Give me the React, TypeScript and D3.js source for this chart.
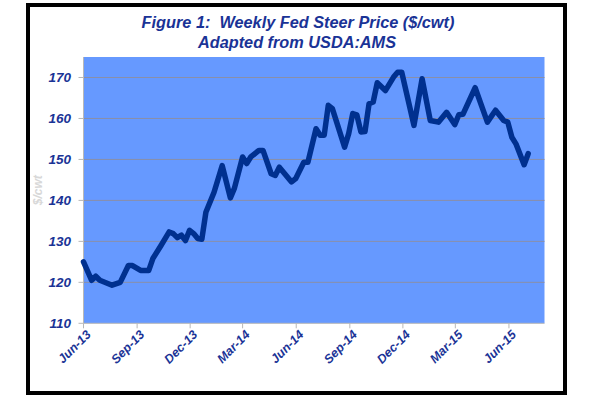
import React from "react";
import * as d3 from "d3";

const dates = [
  "2013-06-01","2013-06-15","2013-06-22","2013-06-29","2013-07-20","2013-08-03","2013-08-17","2013-08-24",
  "2013-09-07","2013-09-21","2013-09-28","2013-10-12","2013-10-26","2013-11-02","2013-11-09","2013-11-16",
  "2013-11-23","2013-11-30","2013-12-07","2013-12-14","2013-12-21","2013-12-28","2014-01-11","2014-01-25",
  "2014-02-08","2014-02-15","2014-03-01","2014-03-08","2014-03-15","2014-03-29","2014-04-05","2014-04-19",
  "2014-04-26","2014-05-03","2014-05-24","2014-05-31","2014-06-14","2014-06-21","2014-07-05","2014-07-12",
  "2014-07-19","2014-07-26","2014-08-02","2014-08-23","2014-08-30","2014-09-06","2014-09-13","2014-09-20",
  "2014-09-27","2014-10-04","2014-10-11","2014-10-18","2014-11-01","2014-11-15","2014-11-22","2014-11-29",
  "2014-12-20","2015-01-03","2015-01-17","2015-01-31","2015-02-14","2015-02-28","2015-03-07","2015-03-14",
  "2015-04-04","2015-04-25","2015-05-09","2015-05-23","2015-05-30","2015-06-06","2015-06-13","2015-06-27",
  "2015-07-04"
];

const prices = [
  125.0, 120.5, 121.5, 120.5, 119.3, 120.0, 124.1, 124.1,
  122.9, 122.9, 125.8, 129.0, 132.3, 131.9, 130.9, 131.5,
  130.2, 132.7, 131.9, 130.7, 130.5, 137.1, 142.0, 148.5,
  140.6, 143.0, 150.6, 149.0, 150.6, 152.2, 152.2, 146.5,
  146.1, 148.1, 144.5, 145.3, 149.3, 149.3, 157.5, 155.9,
  155.9, 163.2, 162.4, 153.0, 156.3, 161.2, 160.9, 156.7,
  156.8, 163.6, 164.0, 168.7, 166.8, 170.1, 171.3, 171.3,
  158.3, 169.7, 159.5, 159.1, 161.5, 158.5, 160.9, 161.0,
  167.5, 159.1, 162.0, 159.5, 159.1, 155.4, 153.8, 148.7,
  151.4
];

const xTickDates = ["2013-06-01","2013-09-01","2013-12-01","2014-03-01","2014-06-01","2014-09-01","2014-12-01","2015-03-01","2015-06-01"];
const xTickLabels = ["Jun-13","Sep-13","Dec-13","Mar-14","Jun-14","Sep-14","Dec-14","Mar-15","Jun-15"];
const yTicks = [110, 120, 130, 140, 150, 160, 170];

const titleLines = ["Figure 1:\u00A0\u00A0Weekly Fed Steer Price ($/cwt)", "Adapted from USDA:AMS"];
const yLabel = "$/cwt";

export default function App() {
  const W = 600, H = 400;
  const left = 83.5, right = 544.5, top = 57, bottom = 323.3;
  const parse = d3.utcParse("%Y-%m-%d");
  const x = d3.scaleUtc()
    .domain([parse("2013-06-01")!, parse("2015-08-01")!])
    .range([left, right]);
  const y = d3.scaleLinear().domain([110, 175]).range([bottom, top]);
  const pts = dates.map((d, i) => [parse(d)!, prices[i]] as [Date, number]);
  const line = d3.line<[Date, number]>().x(d => x(d[0])).y(d => y(d[1]));
  const textColor = "#1a3396";
  const font = "'Liberation Sans', Arial, sans-serif";

  return (
    <svg width={W} height={H} style={{ position: "absolute", left: 0, top: 0 }} fontFamily={font}>
      <rect x={0} y={0} width={W} height={H} fill="#ffffff" />
      <rect x={28} y={5} width={537} height={388} fill="#ffffff" stroke="#000" strokeWidth={4} />
      <text x={298} y={28} textAnchor="middle" fontSize={16.3} fontWeight="bold" fontStyle="italic" fill={textColor}>
        {titleLines[0]}
      </text>
      <text x={297} y={47.5} textAnchor="middle" fontSize={16.3} fontWeight="bold" fontStyle="italic" fill={textColor}>
        {titleLines[1]}
      </text>
      <rect x={left} y={top} width={right - left} height={bottom - top} fill="#6699ff" />
      {yTicks.filter(t => t > 110).map(t => (
        <line key={t} x1={left} x2={right} y1={y(t)} y2={y(t)} stroke="#8a8fa8" strokeWidth={1} />
      ))}
      <line x1={left} x2={left} y1={top} y2={bottom} stroke="#b8b8b8" strokeWidth={1} />
      <line x1={left} x2={right} y1={bottom} y2={bottom} stroke="#b8b8b8" strokeWidth={1} />
      {yTicks.map(t => (
        <g key={"y" + t}>
          <line x1={left - 5} x2={left} y1={y(t)} y2={y(t)} stroke="#b8b8b8" />
          <text x={71} y={y(t)} dy="0.35em" textAnchor="end" fontSize={13.5} fontWeight="bold" fontStyle="italic" fill={textColor}>
            {t}
          </text>
        </g>
      ))}
      {xTickDates.map((d, i) => {
        const xx = x(parse(d)!);
        return (
          <g key={d}>
            <line x1={xx} x2={xx} y1={bottom} y2={bottom + 5} stroke="#b8b8b8" />
            <text
              transform={`translate(${xx + 5},${bottom + 9}) rotate(-45)`}
              textAnchor="end"
              dy="0.35em"
              fontSize={12.5}
              fontWeight="bold"
              fontStyle="italic"
              fill={textColor}
            >
              {xTickLabels[i]}
            </text>
          </g>
        );
      })}
      <text
        transform={`translate(42,${(top + bottom) / 2}) rotate(-90)`}
        textAnchor="middle"
        fontSize={12}
        fontWeight="bold"
        fontStyle="italic"
        fill="#d8d8d8"
      >
        {yLabel}
      </text>
      <path d={line(pts) ?? ""} fill="none" stroke="#00308f" strokeWidth={5.5} strokeLinejoin="round" strokeLinecap="round" />
    </svg>
  );
}
